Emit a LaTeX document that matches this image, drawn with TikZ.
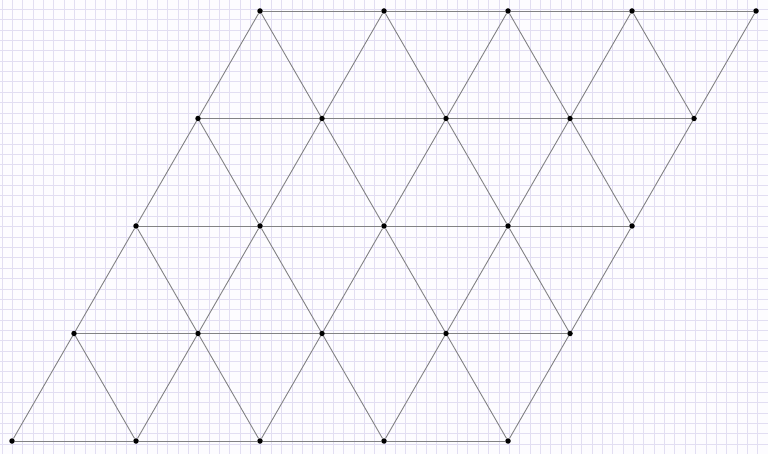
\documentclass[tikz,border=0pt]{standalone}
\usepackage{tikz}
\definecolor{paper}{RGB}{253,252,255}
\definecolor{gridline}{RGB}{226,222,242}
\definecolor{edge}{RGB}{130,130,132}
\tikzset{
  dot/.style={circle,fill=black,inner sep=0pt,minimum size=5.5pt},
  link/.style={edge,line width=0.9pt}
}
\begin{document}
\begin{tikzpicture}[x=1pt,y=-1pt]
              \useasboundingbox (0,0) rectangle (768,454);
              \fill[paper] (0,0) rectangle (768,454);
              \draw[gridline,line width=0.6pt,step=10.35pt,xshift=2pt,yshift=1pt] (-2,-1) grid (770,456);
              \pgfmathsetmacro\dx{124};
              \pgfmathsetmacro\dy{107.5};
              % lattice points
              \foreach \r in {0,...,4} {
                  \foreach \c in {0,...,4} {
                      \node[dot] (p-\r-\c) at ({12+\dx*\c+0.5*\dx*\r},{441-\dy*\r}) {};
                  }
              }
              % horizontal rows
              \foreach \r in {0,...,4} {
                  \foreach \c [count=\n] in {0,...,3} {
                      \draw[link] (p-\r-\c) -- (p-\r-\n);
                  }
              }
              % slanted sides
              \foreach \r [count=\s] in {0,...,3} {
                  \foreach \c in {0,...,4} {
                      \draw[link] (p-\r-\c) -- (p-\s-\c);
                  }
                  \foreach \c [count=\n] in {0,...,3} {
                      \draw[link] (p-\r-\n) -- (p-\s-\c);
                  }
              }
        \end{tikzpicture}
\end{document}
